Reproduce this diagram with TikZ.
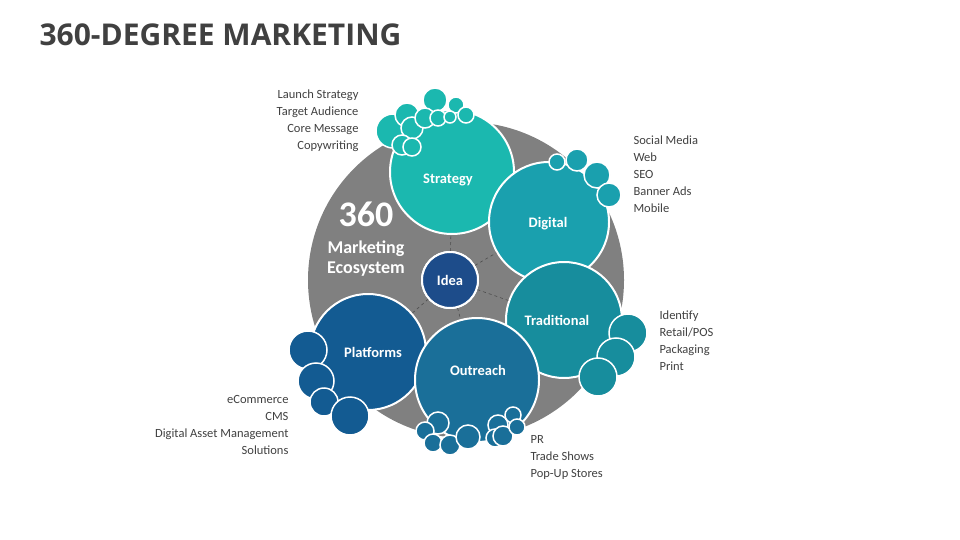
\documentclass[tikz,border=0pt]{standalone}
\usepackage{fontspec}
\setmainfont{Carlito}
\newfontfamily\titlefont{Open Sans}
\definecolor{cStr}{HTML}{1BB8AF}
\definecolor{cDig}{HTML}{1AA0AE}
\definecolor{cTra}{HTML}{178D9D}
\definecolor{cOut}{HTML}{1A6F99}
\definecolor{cPla}{HTML}{135B92}
\definecolor{cIdea}{HTML}{1D4C8A}
\definecolor{ring}{HTML}{808080}
\definecolor{txt}{HTML}{404040}
\begin{document}
\begin{tikzpicture}[x=1pt,y=-1pt,
  bub/.style={circle,draw=white,line width=2pt,inner sep=0pt},
  lbl/.style={text=white,font=\bfseries\fontsize{14.5}{16}\selectfont},
  lst/.style={text=txt,font=\fontsize{12.5}{17}\selectfont,align=#1},
  dsh/.style={draw=ring!60!black,dashed,line width=0.6pt}]
\useasboundingbox (0,0) rectangle (960,540);
\node[anchor=west,text=txt,font=\titlefont\bfseries\fontsize{30}{34}\selectfont] (title) at (36,35) {360-DEGREE MARKETING};
\node[circle,fill=ring,minimum size=316pt,inner sep=0pt] (ringc) at (466,280) {};
\node[bub,fill=cIdea,minimum size=56pt] (idea) at (450,280) {};
% main bubbles
\node[bub,fill=cStr,minimum size=124pt] (str) at (452,172) {};
\node[bub,fill=cDig,minimum size=120pt] (dig) at (549,222) {};
\node[bub,fill=cTra,minimum size=116pt] (tra) at (564,320) {};
\node[bub,fill=cPla,minimum size=116pt] (pla) at (368,352) {};
\node[bub,fill=cOut,minimum size=124pt] (out) at (477,380) {};
\foreach \n in {str,dig,tra,pla,out} \draw[dsh] (idea) -- (\n);
% small bubbles
\foreach \x/\y/\r in {393/131/17,407/115/12,435/100/12,456/105/8,466/115/8,412/128/11,425/118/10,438/118/8,450/117/6,402/145/10,412/147/9}
  \node[bub,fill=cStr,minimum size=2*\r pt,line width=1.5pt] at (\x,\y) {};
\foreach \x/\y/\r in {557/162/8,577/160/11,597/175/13,609/195/12}
  \node[bub,fill=cDig,minimum size=2*\r pt,line width=1.5pt] at (\x,\y) {};
\foreach \x/\y/\r in {628/333/19,616/357/19,598/377/19}
  \node[bub,fill=cTra,minimum size=2*\r pt,line width=1.5pt] at (\x,\y) {};
\foreach \x/\y/\r in {308/350/19,316/381/18,324/402/14,350/416/19}
  \node[bub,fill=cPla,minimum size=2*\r pt,line width=1.5pt] at (\x,\y) {};
\foreach \x/\y/\r in {438/423/11,425/431/9,433/443/9,450/445/10,468/437/12,498/425/10,513/415/8,495/438/9,503/436/10,517/427/8}
  \node[bub,fill=cOut,minimum size=2*\r pt,line width=1.5pt] at (\x,\y) {};
\node[bub,fill=cIdea,minimum size=56pt] (idea2) at (450,280) {};
\node[lbl] (ti) at (450,280) {Idea};
\node[lbl] at (448,180) {Strategy};
\node[lbl] at (548,224) {Digital};
\node[lbl] at (557,320) {Traditional};
\node[lbl] at (373,352) {Platforms};
\node[lbl] at (478,370) {Outreach};
\node[text=white,font=\bfseries\fontsize{36}{38}\selectfont] (n360) at (366,214) {360};
\node[text=white,font=\bfseries\fontsize{18}{20}\selectfont,align=center] (eco) at (366,259) {Marketing\\Ecosystem};
\node[lst=right,anchor=north east] at (362,86) {Launch Strategy\\Target Audience\\Core Message\\Copywriting};
\node[lst=left,anchor=north west] at (630,132) {Social Media\\Web\\SEO\\Banner Ads\\Mobile};
\node[lst=left,anchor=north west] at (656,307) {Identify\\Retail/POS\\Packaging\\Print};
\node[lst=right,anchor=north east] at (292,392) {eCommerce\\CMS\\Digital Asset Management\\Solutions};
\node[lst=left,anchor=north west] at (527,432) {PR\\Trade Shows\\Pop-Up Stores};
\end{tikzpicture}
\end{document}
